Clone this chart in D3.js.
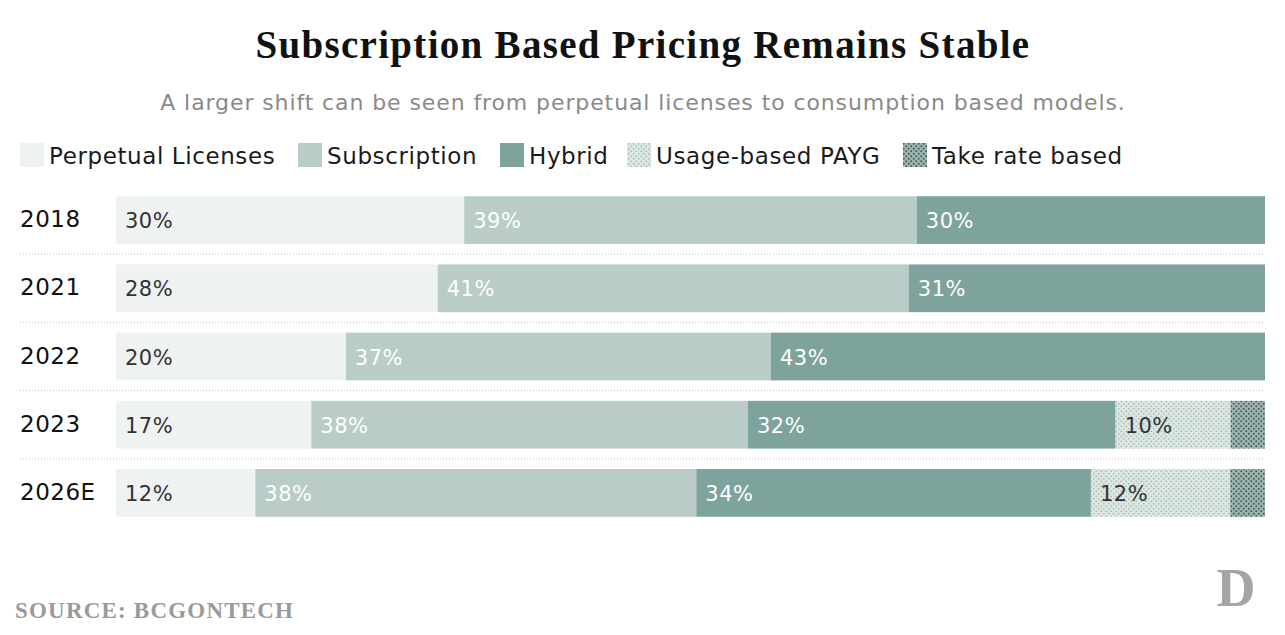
<!DOCTYPE html>
<html>
<head>
<meta charset="utf-8">
<script src="https://cdn.jsdelivr.net/npm/d3@7"></script>
<style>
  body { margin: 0; background: #fff; }
  text { font-family: "DejaVu Sans", sans-serif; }
</style>
</head>
<body>
<svg id="chart" width="1285" height="635"></svg>
<script>
// Years and the share of each pricing model (percent, as printed).
var years = ["2018", "2021", "2022", "2023", "2026E"];
var seriesNames = ["Perpetual Licenses", "Subscription", "Hybrid", "Usage-based PAYG", "Take rate based"];
var perpetual = [30, 28, 20, 17, 12];
var subscription = [39, 41, 37, 38, 38];
var hybrid = [30, 31, 43, 32, 34];
var usage = [0, 0, 0, 10, 12];
var takeRate = [0, 0, 0, 3, 3];

var seriesValues = [perpetual, subscription, hybrid, usage, takeRate];
var fills = ["#eef2f1", "#b9ccc8", "#7da39c", "url(#dotsLight)", "url(#dotsDark)"];
var labelColors = ["#333", "#fff", "#fff", "#333", "#333"];

var svg = d3.select("#chart");

// Dotted patterns for the two consumption based models.
var defs = svg.append("defs");
function dotPattern(id, bg, dot, r) {
    var p = defs.append("pattern")
        .attr("id", id)
        .attr("width", 5)
        .attr("height", 5)
        .attr("patternUnits", "userSpaceOnUse");
    p.append("rect").attr("width", 5).attr("height", 5).attr("fill", bg);
    p.append("circle").attr("cx", 1.25).attr("cy", 1.25).attr("r", r).attr("fill", dot);
    p.append("circle").attr("cx", 3.75).attr("cy", 3.75).attr("r", r).attr("fill", dot);
}
dotPattern("dotsLight", "#dce7e4", "#a3b8b3", 0.85);
dotPattern("dotsDark", "#9db4af", "#3f5853", 0.95);

// Title and subtitle.
svg.append("text")
    .attr("x", 643).attr("y", 58)
    .attr("text-anchor", "middle")
    .style("font-family", "'Liberation Serif', serif")
    .style("font-weight", "bold")
    .style("font-size", "39px")
    .style("letter-spacing", "1.3px")
    .style("fill", "#111")
    .text("Subscription Based Pricing Remains Stable");

svg.append("text")
    .attr("x", 643).attr("y", 110)
    .attr("text-anchor", "middle")
    .style("font-size", "22px")
    .style("letter-spacing", "0.9px")
    .style("fill", "#8a8a8a")
    .text("A larger shift can be seen from perpetual licenses to consumption based models.");

// Legend.
var legendX = [20, 298, 500, 627, 903];
var legend = svg.append("g");
seriesNames.forEach(function(name, i) {
    legend.append("rect")
        .attr("x", legendX[i]).attr("y", 143)
        .attr("width", 24).attr("height", 24)
        .attr("fill", fills[i]);
    legend.append("text")
        .attr("x", legendX[i] + 29).attr("y", 164)
        .style("font-size", "23px")
        .style("letter-spacing", "0.6px")
        .style("fill", "#1a1a1a")
        .text(name);
});

// Scales: each row is normalised to its own total.
var x = d3.scaleLinear().domain([0, 1]).range([116, 1265]);
var y = d3.scaleBand().domain(years).range([186, 527])
    .paddingInner(0.3).paddingOuter(0.15);

// Dotted separators between rows.
var sepYs = years.slice(1).map(function(yr) { return y(yr) - y.step() * 0.15; });
svg.append("g").selectAll("line")
    .data(sepYs)
    .enter()
    .append("line")
    .attr("x1", 20).attr("x2", 1265)
    .attr("y1", function(d) { return d; })
    .attr("y2", function(d) { return d; })
    .attr("stroke", "#c8c8c8")
    .attr("stroke-width", 1)
    .attr("stroke-dasharray", "1,2");

var rows = svg.append("g").selectAll("g")
    .data(years)
    .enter()
    .append("g");

rows.append("text")
    .attr("x", 20)
    .attr("y", function(d) { return y(d) + y.bandwidth() / 2 + 7; })
    .style("font-size", "23px")
    .style("letter-spacing", "0.5px")
    .style("fill", "#111")
    .text(function(d) { return d; });

years.forEach(function(yr, r) {
    var total = d3.sum(seriesValues, function(s) { return s[r]; });
    var acc = 0;
    seriesValues.forEach(function(s, i) {
        var v = s[r];
        if (!v) return;
        var x0 = x(acc / total), x1 = x((acc + v) / total);
        acc += v;
        svg.append("rect")
            .attr("x", x0).attr("y", y(yr))
            .attr("width", x1 - x0).attr("height", y.bandwidth())
            .attr("fill", fills[i]);
        if (i < 4) {
            svg.append("text")
                .attr("x", x0 + 9)
                .attr("y", y(yr) + y.bandwidth() / 2 + 8)
                .style("font-size", "21px")
                .style("letter-spacing", "0.5px")
                .style("fill", labelColors[i])
                .text(v + "%");
        }
    });
});

// Source note and logo mark.
svg.append("text")
    .attr("x", 15).attr("y", 618)
    .style("font-family", "'Liberation Serif', serif")
    .style("font-weight", "bold")
    .style("font-size", "23px")
    .style("letter-spacing", "1.2px")
    .style("fill", "#9a9a9a")
    .text("SOURCE: BCGONTECH");

svg.append("text")
    .attr("x", 1236).attr("y", 606)
    .attr("text-anchor", "middle")
    .style("font-family", "'Liberation Serif', serif")
    .style("font-weight", "bold")
    .style("font-size", "54px")
    .style("fill", "#a5a5a5")
    .text("D");
</script>
</body>
</html>
